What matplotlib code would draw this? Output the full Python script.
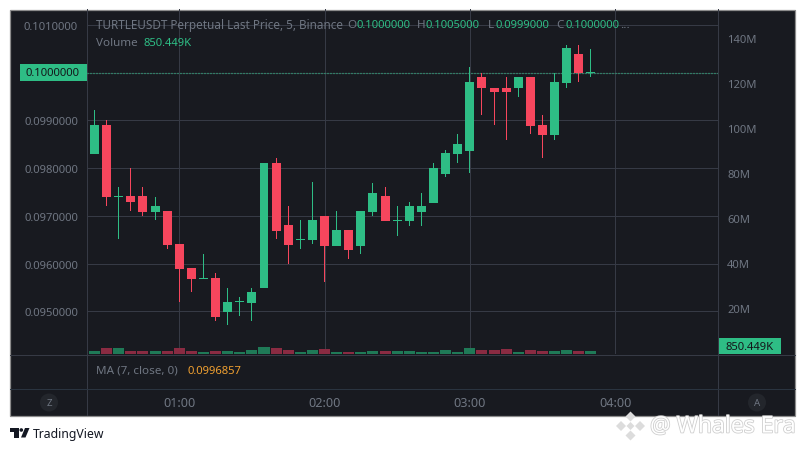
import numpy as np
import matplotlib
matplotlib.use('Agg')
import matplotlib.pyplot as plt
from matplotlib.patches import Rectangle, Circle, Polygon
from matplotlib.transforms import ScaledTranslation
import matplotlib.patheffects as pe

# --- chart values ---
opens = [0.09830, 0.09890, 0.09741, 0.09742, 0.09742, 0.09708, 0.09710, 0.09641, 0.09591, 0.09570, 0.09570,
         0.09499, 0.09520, 0.09517, 0.09549, 0.09811, 0.09681, 0.09650, 0.09649, 0.09699, 0.09638, 0.09670,
         0.09638, 0.09708, 0.09741, 0.09690, 0.09689, 0.09708, 0.09728, 0.09787, 0.09829, 0.09837, 0.09990,
         0.09969, 0.09969, 0.09967, 0.09990, 0.09890, 0.09869, 0.09978, 0.10040, 0.10000]
highs = [0.09922, 0.09900, 0.09760, 0.09800, 0.09760, 0.09740, 0.09710, 0.09641, 0.09591, 0.09620, 0.09580,
         0.09550, 0.09530, 0.09550, 0.09811, 0.09821, 0.09721, 0.09691, 0.09771, 0.09699, 0.09710, 0.09670,
         0.09710, 0.09770, 0.09760, 0.09720, 0.09730, 0.09749, 0.09810, 0.09839, 0.09871, 0.10011, 0.10000,
         0.09969, 0.09990, 0.09990, 0.09990, 0.09911, 0.10000, 0.10059, 0.10059, 0.10050]
lows = [0.09830, 0.09721, 0.09651, 0.09710, 0.09700, 0.09691, 0.09630, 0.09520, 0.09540, 0.09570, 0.09480,
        0.09471, 0.09490, 0.09480, 0.09549, 0.09651, 0.09600, 0.09630, 0.09641, 0.09561, 0.09638, 0.09609,
        0.09620, 0.09699, 0.09689, 0.09659, 0.09680, 0.09680, 0.09728, 0.09781, 0.09810, 0.09789, 0.09911,
        0.09890, 0.09860, 0.09950, 0.09871, 0.09821, 0.09860, 0.09969, 0.09980, 0.09990]
closes = [0.09890, 0.09739, 0.09741, 0.09729, 0.09708, 0.09721, 0.09639, 0.09589, 0.09568, 0.09570, 0.09488,
          0.09520, 0.09520, 0.09540, 0.09811, 0.09668, 0.09639, 0.09650, 0.09691, 0.09638, 0.09670, 0.09628,
          0.09710, 0.09749, 0.09689, 0.09690, 0.09720, 0.09720, 0.09800, 0.09831, 0.09850, 0.09980, 0.09967,
          0.09959, 0.09959, 0.09990, 0.09888, 0.09869, 0.09980, 0.10051, 0.10000, 0.10000]
volumes = [1.3, 2.7, 2.7, 1.3, 1.3, 1.3, 1.3, 2.7, 1.3, 0.9, 1.3, 1.3, 0.9, 1.8, 3.1, 2.7, 1.8, 0.9, 1.8, 2.2, 0.9,
           0.9, 0.9, 1.3, 1.3, 1.3, 1.3, 0.9, 0.9, 1.8, 0.9, 2.7, 1.8, 1.8, 2.2, 0.9, 1.8, 1.3, 1.3, 1.8, 1.3, 1.3]
price_ticks = [0.095, 0.096, 0.097, 0.098, 0.099, 0.100, 0.101]
vol_ticks = [20, 40, 60, 80, 100, 120, 140]
time_pos = [7, 19, 31, 43]
time_labels = ['01:00', '02:00', '03:00', '04:00']

# --- colours ---
BG = '#181a20'
GREEN = '#2ebd85'
RED = '#f6465d'
VOL_GREEN = '#1f7a57'
VOL_RED = '#8a2b42'
GRID = '#363a45'
TXT = '#6f7682'

W, H = 806, 452
NUM = 8.1  # digits run narrower than the names
plt.rcParams['font.family'] = ['Noto Sans', 'DejaVu Sans']
fig = plt.figure(figsize=(W / 100, H / 100), dpi=100, facecolor='white')


def px_axes(x0, y0, x1, y1):
    return fig.add_axes([x0 / W, 1 - y1 / H, (x1 - x0) / W, (y1 - y0) / H])


# background panel
back = px_axes(0, 0, W, H)
back.set_xlim(0, W)
back.set_ylim(H, 0)
back.axis('off')
back.set_zorder(0)
back.add_patch(Rectangle((10, 10.5), 785, 406, fc=BG, ec='#8c8c8c', lw=0.9))
back.plot([87, 87], [10, 416], color=GRID, lw=0.72)
back.plot([718, 718], [10, 416], color=GRID, lw=0.72)
back.plot([10, 795], [355.5, 355.5], color=GRID, lw=0.72)
back.plot([10, 795], [389.5, 389.5], color='#2a3440', lw=0.72)

# --- price pane ---
ax = px_axes(87, 10, 718, 355)
ax.set_zorder(1)
ax.patch.set_visible(False)
ax.set_xlim(-0.62, 51.5)
ax.set_ylim(0.1 - (355 - 73.7) / 47.75 * 0.001, 0.1 + (73.7 - 10) / 47.75 * 0.001)
for s in ax.spines.values():
    s.set_visible(False)
ax.set_axisbelow(True)
ax.grid(True, color=GRID, lw=0.72)
ax.set_yticks(price_ticks)
ax.set_yticklabels(['' if p == 0.100 else f'{p:.7f}' for p in price_ticks])
ax.set_xticks(time_pos)
ax.set_xticklabels(time_labels)
ax.tick_params(axis='y', length=0, pad=6.5, labelsize=NUM, labelcolor=TXT)
ax.tick_params(axis='x', length=0, pad=30.5, labelsize=9.1, labelcolor=TXT)
ax.axhline(closes[-1], color=GREEN, lw=0.9, ls=(0, (0.8, 1.6)), zorder=1.5)

idx = np.arange(len(opens))
o, h, l, c = map(np.array, (opens, highs, lows, closes))
cols = [GREEN if b >= a else RED for a, b in zip(o, c)]
# wicks and flat bodies are one-pixel bars so they snap to the pixel grid
one_px_x = (51.5 + 0.62) / 631
one_px_y = 0.001 / 47.75
ax.bar(idx, h - l, bottom=l, width=one_px_x, color=cols, lw=0, zorder=3)
ax.bar(idx, np.abs(c - o), bottom=np.minimum(o, c), width=0.74, color=cols, lw=0, zorder=4)
doji = np.abs(c - o) < 0.00002
ax.bar(idx[doji], one_px_y, bottom=c[doji] - one_px_y / 2, width=0.74, color=GREEN, lw=0, zorder=4)

# --- volume, right scale ---
vx = ax.twinx()
vx.set_zorder(1.5)
vx.patch.set_visible(False)
vx.set_ylim(0, (355 - 10) / 45 * 20)
for s in vx.spines.values():
    s.set_visible(False)
vx.set_yticks(vol_ticks)
vx.set_yticklabels([f'{v}M' for v in vol_ticks])
vx.tick_params(axis='y', length=0, pad=6.5, labelsize=NUM, labelcolor=TXT)
# labels sit a pixel above their nominal height in the screenshot
lift = ScaledTranslation(0, 1 / 100, fig.dpi_scale_trans)
for lab in vx.get_yticklabels():
    lab.set_transform(lab.get_transform() + lift)
vcols = [VOL_GREEN if b >= a else VOL_RED for a, b in zip(o, c)]
vx.bar(idx, volumes, width=0.91, color=vcols, lw=0)

# --- labels, legend and footer in pixel coordinates ---
top = px_axes(0, 0, W, H)
top.set_xlim(0, W)
top.set_ylim(H, 0)
top.axis('off')
top.patch.set_visible(False)
top.set_zorder(3)

top.add_patch(Rectangle((20, 65), 67, 17, fc=GREEN, ec='none'))
top.text(80, 74, '0.1000000', color='#14161a', fontsize=NUM, ha='right', va='center')
top.add_patch(Rectangle((719, 339), 62, 16, fc=GREEN, ec='none'))
top.text(750, 347.5, '850.449K', color='#14161a', fontsize=NUM, ha='center', va='center')

top.text(96, 26, 'TURTLEUSDT Perpetual Last Price, 5, Binance', color=TXT, fontsize=8.45, va='center')
for xa, name, xb, val in [(347, 'O', 356.5, '0.1000000'), (417, 'H', 426, '0.1005000'),
                          (488, 'L', 496, '0.0999000'), (556, 'C', 565, '0.1000000')]:
    top.text(xa, 26, name, color=TXT, fontsize=8.4, va='center')
    top.text(xb, 26, val, color=GREEN, fontsize=NUM, va='center')
top.text(620.5, 26, '...', color=TXT, fontsize=8.4, va='center')
top.text(96, 43.5, 'Volume', color=TXT, fontsize=8.4, va='center')
top.text(143, 43.5, '850.449K', color=GREEN, fontsize=NUM, va='center')
top.text(96, 371.5, 'MA (7, close, 0)', color=TXT, fontsize=8.4, va='center')
top.text(187, 371.5, '0.0996857', color='#f0a030', fontsize=NUM, va='center')

for cx, letter in [(49, 'Z'), (757, 'A')]:
    top.add_patch(Circle((cx, 403.5), 9, fc='#23262c', ec='none'))
    top.text(cx, 404, letter, color=TXT, fontsize=7, ha='center', va='center')

# TradingView mark
top.add_patch(Polygon([(10, 429), (19, 429), (19, 438.5), (14, 438.5), (14, 432.5), (10, 432.5)], fc='#131722', ec='none'))
top.add_patch(Circle((21.3, 431), 1.8, fc='#131722', ec='none'))
top.add_patch(Polygon([(25, 429), (29.5, 429), (25.5, 438.5), (21, 438.5)], fc='#131722', ec='none'))
top.text(33, 435, 'TradingView', color='#131722', fontsize=8.8, va='center')

# watermark
mark = [pe.withStroke(linewidth=1.2, foreground='#cfcfcf')]
top.text(650, 427.5, '@ Whales Era', color='white', fontsize=16.5, va='center', path_effects=mark)
for dx, dy, r in [(0, -9.5, 5), (-9.5, 0, 5), (9.5, 0, 5), (0, 9.5, 5), (0, 0, 4)]:
    top.add_patch(Polygon([(630.5 + dx, 427 + dy - r), (630.5 + dx + r, 427 + dy),
                           (630.5 + dx, 427 + dy + r), (630.5 + dx - r, 427 + dy)], fc='#dcdcdc', ec='none'))

fig.savefig('out.png', dpi=100, facecolor='white')
